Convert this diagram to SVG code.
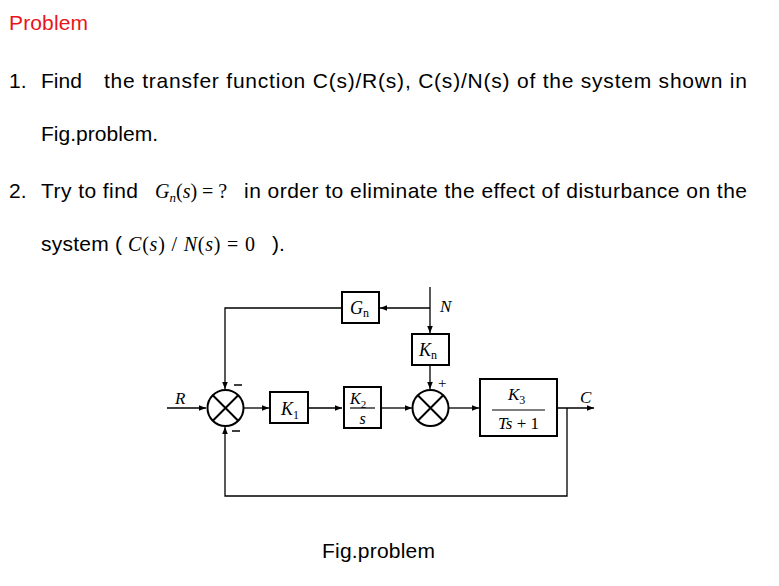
<svg xmlns="http://www.w3.org/2000/svg" width="779" height="586" viewBox="0 0 779 586">
<style>
.t{font-family:"Liberation Sans",Arial,sans-serif;font-size:21px;fill:#000}
.m{font-family:"Liberation Serif","Times New Roman",serif;font-style:italic;fill:#000}
.r{font-family:"Liberation Serif","Times New Roman",serif;fill:#000}
.b{fill:#fff;stroke:#000;stroke-width:2}
.l{fill:none;stroke:#000;stroke-width:1.3}
</style>
<defs><marker id="a" viewBox="0 0 10 10" refX="10" refY="5" markerWidth="9" markerHeight="7" orient="auto" markerUnits="userSpaceOnUse"><path d="M0,1L10,5L0,9z" fill="#000"/></marker></defs>
<rect width="779" height="586" fill="#fff"/>
<text x="9" y="30" class="t" style="fill:#e8141c" textLength="79">Problem</text>
<text x="9" y="88" class="t"><tspan>1.</tspan><tspan x="41">Find</tspan><tspan x="104" textLength="643">the transfer function C(s)/R(s), C(s)/N(s) of the system shown in</tspan></text>
<text x="41" y="141" class="t" textLength="117">Fig.problem.</text>
<text x="9" y="198" class="t"><tspan>2.</tspan><tspan x="41" textLength="97">Try to find</tspan></text>
<text x="155" y="198" class="m" font-size="20">G<tspan font-size="13" dy="4">n</tspan><tspan dy="-4" style="font-style:normal">(</tspan>s<tspan style="font-style:normal">) = ?</tspan></text>
<text x="244" y="198" class="t" textLength="503">in order to eliminate the effect of disturbance on the</text>
<text x="41" y="251" class="t" textLength="81">system (</text>
<text x="128" y="251" class="m" font-size="20" textLength="127">C<tspan style="font-style:normal">(</tspan>s<tspan style="font-style:normal">) / </tspan>N<tspan style="font-style:normal">(</tspan>s<tspan style="font-style:normal">) = 0</tspan></text>
<text x="272" y="251" class="t">).</text>
<g id="connectors">
<path class="l" d="M167,408H206" marker-end="url(#a)"/>
<path class="l" d="M244,408H269" marker-end="url(#a)"/>
<path class="l" d="M308,408H342" marker-end="url(#a)"/>
<path class="l" d="M381,408H412" marker-end="url(#a)"/>
<path class="l" d="M449,408H479" marker-end="url(#a)"/>
<path class="l" d="M557,408H594" marker-end="url(#a)"/>
<path class="l" d="M430,287V333" marker-end="url(#a)"/>
<path class="l" d="M430,308H380" marker-end="url(#a)"/>
<path class="l" d="M342,308H225V389" marker-end="url(#a)"/>
<path class="l" d="M430,365V389" marker-end="url(#a)"/>
<path class="l" d="M567,408V496H225V427" marker-end="url(#a)"/>
</g>
<g id="sum1"><circle cx="225.5" cy="408" r="18" class="b"/><path class="l" d="M212.8,395.3L238.2,420.7M238.2,395.3L212.8,420.7" style="stroke-width:2"/></g>
<g id="sum2"><circle cx="430.5" cy="408" r="18" class="b"/><path class="l" d="M417.8,395.3L443.2,420.7M443.2,395.3L417.8,420.7" style="stroke-width:2"/></g>
<g id="k1"><rect x="270" y="392" width="38" height="31" class="b"/><text x="281" y="415" class="m" font-size="18">K<tspan font-size="12" dy="4" style="font-style:normal">1</tspan></text></g>
<g id="k2"><rect x="344" y="387" width="37" height="41" class="b"/><text x="350" y="404" class="m" font-size="16">K<tspan font-size="11" dy="4" style="font-style:normal">2</tspan></text><path d="M350,408H375" stroke="#000" stroke-width="1.2"/><text x="362.5" y="424" class="m" font-size="16" text-anchor="middle">s</text></g>
<g id="k3"><rect x="480" y="379" width="77" height="57" class="b"/><text x="508" y="400" class="m" font-size="17">K<tspan font-size="12" dy="4" style="font-style:normal">3</tspan></text><path d="M492,410H545" stroke="#000" stroke-width="1.2"/><text x="518.5" y="429" class="m" font-size="17" text-anchor="middle">Ts<tspan style="font-style:normal"> + 1</tspan></text></g>
<g id="gn"><rect x="342" y="292" width="37" height="31" class="b"/><text x="350" y="314" class="m" font-size="18">G<tspan font-size="12" dy="3" style="font-style:normal">n</tspan></text></g>
<g id="kn"><rect x="412" y="334" width="37" height="31" class="b"/><text x="419" y="356" class="m" font-size="18">K<tspan font-size="12" dy="3" style="font-style:normal">n</tspan></text></g>
<text x="175" y="404" class="m" font-size="17">R</text>
<text x="580" y="403" class="m" font-size="17">C</text>
<text x="440" y="312" class="m" font-size="17">N</text>
<path d="M234,385H242M232,431H240" stroke="#000" stroke-width="1.5"/>
<text x="438" y="388" class="r" font-size="15">+</text>
<text x="322" y="558" class="t" textLength="113">Fig.problem</text>
</svg>
